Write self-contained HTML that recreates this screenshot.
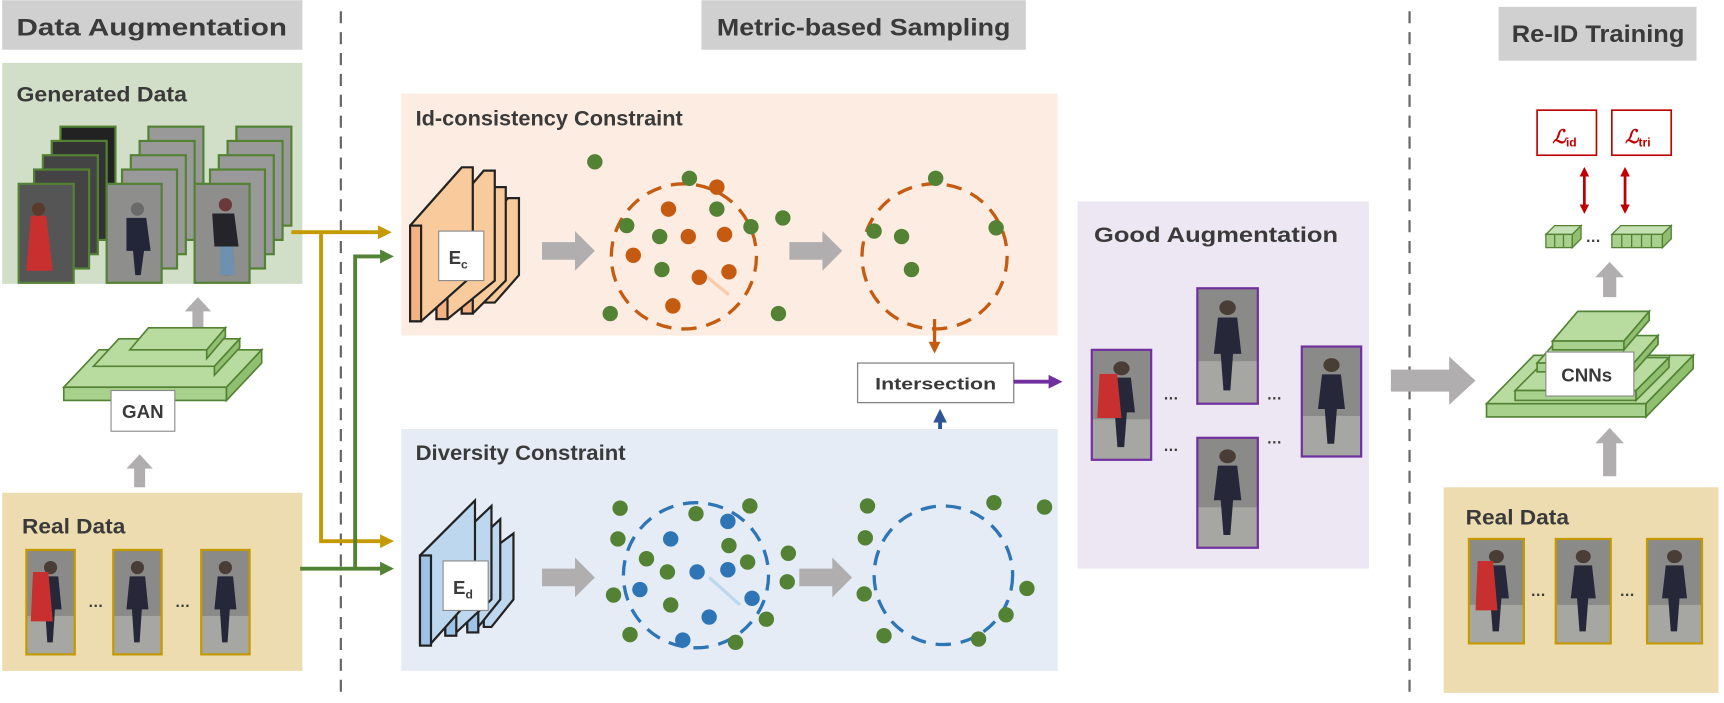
<!DOCTYPE html>
<html><head><meta charset="utf-8"><style>
html,body{margin:0;padding:0;background:#fff;}
svg{display:block;}
text{font-family:"Liberation Sans",sans-serif;font-weight:bold;fill:#3a3a3a;}
</style></head><body>
<svg width="1724" height="703" viewBox="0 0 1568 639" xmlns="http://www.w3.org/2000/svg">
<defs>
<marker id="ay" viewBox="0 0 6 6" markerWidth="3.6" markerHeight="3.6" refX="3" refY="3" orient="auto"><path d="M0,0 L6,3 L0,6 z" fill="#c49a00"/></marker>
<marker id="ag" viewBox="0 0 6 6" markerWidth="3.6" markerHeight="3.6" refX="3" refY="3" orient="auto"><path d="M0,0 L6,3 L0,6 z" fill="#548235"/></marker>
<marker id="ao" viewBox="0 0 6 6" markerWidth="3.6" markerHeight="3.6" refX="3" refY="3" orient="auto"><path d="M0,0 L6,3 L0,6 z" fill="#c55a11"/></marker>
<marker id="ab" viewBox="0 0 6 6" markerWidth="3.6" markerHeight="3.6" refX="3" refY="3" orient="auto"><path d="M0,0 L6,3 L0,6 z" fill="#2f5597"/></marker>
<marker id="ap" viewBox="0 0 6 6" markerWidth="3.6" markerHeight="3.6" refX="3" refY="3" orient="auto"><path d="M0,0 L6,3 L0,6 z" fill="#7030a0"/></marker>
<marker id="ar" viewBox="0 0 6 6" markerWidth="3.5" markerHeight="3.5" refX="3" refY="3" orient="auto-start-reverse"><path d="M0,0 L6,3 L0,6 z" fill="#c00000"/></marker>
<symbol id="person" viewBox="0 0 44 95" preserveAspectRatio="none">
<rect x="0" y="0" width="44" height="95" fill="#8a8a88"/>
<rect x="0" y="60" width="44" height="35" fill="#a6a6a2"/>
<circle cx="22" cy="16" r="6" fill="#4a3d36"/>
<path d="M15,24 h14 l3,30 h-6 l-2,30 h-5 l-2,-30 h-5 z" fill="#26283a"/>
</symbol>
</defs>

<rect x="2" y="0" width="273" height="45" fill="#d0d0d0"/>
<text x="15" y="32" font-size="22" textLength="246" lengthAdjust="spacingAndGlyphs">Data Augmentation</text>
<rect x="638" y="0" width="295" height="45" fill="#d0d0d0"/>
<text x="652" y="32" font-size="22" textLength="267" lengthAdjust="spacingAndGlyphs">Metric-based Sampling</text>
<rect x="1363" y="6" width="180" height="49" fill="#d0d0d0"/>
<text x="1375" y="38" font-size="22" textLength="157" lengthAdjust="spacingAndGlyphs">Re-ID Training</text>

<line x1="310" y1="10" x2="310" y2="635" stroke="#666" stroke-width="2" stroke-dasharray="11,8"/>
<line x1="1282" y1="10" x2="1282" y2="635" stroke="#666" stroke-width="2" stroke-dasharray="11,8"/>

<!-- Generated data -->
<rect x="2" y="57" width="273" height="201" fill="#d2dfc8"/>
<text x="15" y="92" font-size="19" textLength="155" lengthAdjust="spacingAndGlyphs">Generated Data</text>
<g stroke="#548235" stroke-width="2">
<rect x="55" y="115" width="50" height="90" fill="#222"/>
<rect x="47" y="128" width="50" height="90" fill="#333"/>
<rect x="39" y="141" width="50" height="90" fill="#444"/>
<rect x="31" y="154" width="50" height="90" fill="#444"/>
<rect x="135" y="115" width="50" height="90" fill="#999"/>
<rect x="127" y="128" width="50" height="90" fill="#999"/>
<rect x="119" y="141" width="50" height="90" fill="#999"/>
<rect x="111" y="154" width="50" height="90" fill="#999"/>
<rect x="215" y="115" width="50" height="90" fill="#999"/>
<rect x="207" y="128" width="50" height="90" fill="#999"/>
<rect x="199" y="141" width="50" height="90" fill="#999"/>
<rect x="191" y="154" width="50" height="90" fill="#999"/>
<rect x="17" y="167" width="50" height="90" fill="#555"/>
<rect x="97" y="167" width="50" height="90" fill="#8e8e8c"/>
<rect x="177" y="167" width="50" height="90" fill="#8e8e8c"/>
</g>
<path d="M28,196 h14 l6,50 h-24 z" fill="#c83030"/>
<circle cx="35" cy="190" r="6" fill="#5a3a2a"/>
<circle cx="125" cy="190" r="6" fill="#6a6a6a"/>
<path d="M115,198 h18 l4,30 h-6 l-3,22 h-5 l-2,-22 h-6 z" fill="#222638"/>
<circle cx="205" cy="186" r="6" fill="#6a3a3a"/>
<path d="M193,194 h20 l4,30 h-6 l-2,26 h-6 l-2,-26 h-6 z" fill="#24242a"/>
<path d="M200,224 h12 l2,26 h-14 z" fill="#7090b0"/>

<path d="M175,300 v-17 h-7 l12,-13 l12,13 h-7 v17 z" fill="#b0aeae"/>

<!-- GAN pyramid -->
<g stroke="#548235" stroke-width="1.5">
<path d="M58,352 L90,318 L238,318 L206,352 z" fill="#b8dca0"/>
<rect x="58" y="352" width="148" height="12" fill="#a9d18e"/>
<path d="M206,352 L238,318 L238,330 L206,364 z" fill="#8fbf6f"/>
<path d="M85,333 L108,308 L218,308 L195,333 z" fill="#b8dca0"/>
<path d="M195,333 L218,308 L218,316 L195,341 z" fill="#8fbf6f"/>
<path d="M118,318 L135,298 L205,298 L188,318 z" fill="#b8dca0"/>
<path d="M188,318 L205,298 L205,306 L188,326 z" fill="#8fbf6f"/>
</g>
<rect x="101" y="355" width="58" height="37" fill="#fff" stroke="#888"/>
<text x="111" y="380" font-size="17">GAN</text>

<path d="M122,443 v-17 h-7 l12,-13 l12,13 h-7 v17 z" fill="#b0aeae"/>

<!-- Real Data left -->
<rect x="2" y="448" width="273" height="162" fill="#ecdcaf"/>
<text x="20" y="485" font-size="19" textLength="94" lengthAdjust="spacingAndGlyphs">Real Data</text>
<use href="#person" x="24" y="500" width="44" height="95"/>
<use href="#person" x="103" y="500" width="44" height="95"/>
<use href="#person" x="183" y="500" width="44" height="95"/>
<g stroke="#c49a00" stroke-width="2" fill="none">
<rect x="24" y="500" width="44" height="95"/><rect x="103" y="500" width="44" height="95"/><rect x="183" y="500" width="44" height="95"/>
</g>
<path d="M30,520 h14 l4,45 h-20 z" fill="#c83030"/>
<text x="80" y="552" font-size="14" fill="#222">…</text>
<text x="159" y="552" font-size="14" fill="#222">…</text>

<!-- connectors -->
<g fill="none" stroke-width="3.5">
<path d="M265,211 H350" stroke="#c49a00" marker-end="url(#ay)"/>
<path d="M292,211 V492 H352" stroke="#c49a00" marker-end="url(#ay)"/>
<path d="M273,517 H352" stroke="#548235" marker-end="url(#ag)"/>
<path d="M323,517 V233 H352" stroke="#548235" marker-end="url(#ag)"/>
</g>

<!-- Id-consistency box -->
<rect x="365" y="85" width="597" height="220" fill="#fcece1"/>
<text x="378" y="114" font-size="19" textLength="243" lengthAdjust="spacingAndGlyphs">Id-consistency Constraint</text>
<g stroke="#222" stroke-width="2" fill="#f9cb9c">
<path d="M440,205 L462,180 L472,180 L472,250 L450,275 L440,275z"/>
<path d="M420,205 L450,170 L460,170 L460,255 L430,285 L420,285z"/><rect x="420" y="205" width="10" height="80" fill="#f4b183"/>
<path d="M397,205 L440,155 L450,155 L450,255 L407,290 L397,290z"/><rect x="397" y="205" width="10" height="85" fill="#f4b183"/>
<path d="M373,205 L420,152 L430,152 L430,250 L383,292 L373,292z"/><rect x="373" y="205" width="10" height="87" fill="#f4b183"/>
</g>
<rect x="399" y="210" width="41" height="45" fill="#fff" stroke="#888"/>
<text x="408" y="240" font-size="17">E<tspan font-size="11" dy="4">c</tspan></text>
<path d="M493,220 h30 v-10 l18,18 l-18,18 v-10 h-30 z" fill="#b0aeae"/>
<path d="M718,220 h30 v-10 l18,18 l-18,18 v-10 h-30 z" fill="#b0aeae"/>
<circle cx="622" cy="233" r="66" fill="none" stroke="#c55a11" stroke-width="3" stroke-dasharray="14,9"/>
<circle cx="850" cy="233" r="66" fill="none" stroke="#c55a11" stroke-width="3" stroke-dasharray="14,9"/>
<line x1="636" y1="246" x2="663" y2="268" stroke="#f8cbad" stroke-width="3"/>
<g fill="#548235">
<circle cx="541" cy="147" r="7"/><circle cx="627" cy="162" r="7"/><circle cx="570" cy="205" r="7"/><circle cx="652" cy="190" r="7"/>
<circle cx="600" cy="215" r="7"/><circle cx="683" cy="206" r="7"/><circle cx="712" cy="198" r="7"/><circle cx="602" cy="245" r="7"/>
<circle cx="555" cy="285" r="7"/><circle cx="708" cy="285" r="7"/>
<circle cx="851" cy="162" r="7"/><circle cx="795" cy="210" r="7"/><circle cx="820" cy="215" r="7"/><circle cx="906" cy="207" r="7"/><circle cx="829" cy="245" r="7"/>
</g>
<g fill="#c55a11">
<circle cx="652" cy="170" r="7"/><circle cx="608" cy="190" r="7"/><circle cx="626" cy="215" r="7"/><circle cx="659" cy="213" r="7"/>
<circle cx="576" cy="232" r="7"/><circle cx="636" cy="252" r="7"/><circle cx="663" cy="247" r="7"/><circle cx="612" cy="278" r="7"/>
</g>
<path d="M850,290 V316" stroke="#c55a11" stroke-width="3" fill="none" marker-end="url(#ao)"/>

<!-- Intersection -->
<rect x="780" y="330" width="142" height="36" fill="#fff" stroke="#888" stroke-width="1.2"/>
<text x="796" y="354" font-size="15" textLength="110" lengthAdjust="spacingAndGlyphs">Intersection</text>
<path d="M922,347 H960" stroke="#7030a0" stroke-width="3.5" fill="none" marker-end="url(#ap)"/>
<path d="M855,410 V378" stroke="#2f5597" stroke-width="3.5" fill="none" marker-end="url(#ab)"/>

<!-- Diversity box -->
<rect x="365" y="390" width="597" height="220" fill="#e5ecf6"/>
<text x="378" y="418" font-size="19" textLength="191" lengthAdjust="spacingAndGlyphs">Diversity Constraint</text>
<g stroke="#222" stroke-width="2" fill="#bdd7ee">
<path d="M440,505 L467,485 L467,545 L447,570 L440,570z"/>
<path d="M425,500 L455,472 L455,545 L435,570 L425,570z"/><rect x="425" y="500" width="10" height="75" fill="#9dc3e6"/>
<path d="M405,500 L447,460 L447,545 L415,575 L405,575z"/><rect x="405" y="500" width="10" height="78" fill="#9dc3e6"/>
<path d="M382,505 L432,455 L432,540 L392,585 L382,585z"/><rect x="382" y="505" width="10" height="82" fill="#9dc3e6"/>
</g>
<rect x="403" y="510" width="41" height="45" fill="#fff" stroke="#888"/>
<text x="412" y="540" font-size="17">E<tspan font-size="11" dy="4">d</tspan></text>
<path d="M493,517 h30 v-10 l18,18 l-18,18 v-10 h-30 z" fill="#b0aeae"/>
<path d="M727,517 h30 v-10 l18,18 l-18,18 v-10 h-30 z" fill="#b0aeae"/>
<circle cx="633" cy="523" r="66" fill="none" stroke="#2e75b6" stroke-width="3" stroke-dasharray="14,9"/>
<circle cx="858" cy="523" r="63" fill="none" stroke="#2e75b6" stroke-width="3" stroke-dasharray="14,9"/>
<line x1="645" y1="525" x2="673" y2="550" stroke="#bdd7ee" stroke-width="3"/>
<g fill="#548235">
<circle cx="564" cy="462" r="7"/><circle cx="633" cy="467" r="7"/><circle cx="682" cy="460" r="7"/><circle cx="562" cy="490" r="7"/>
<circle cx="663" cy="496" r="7"/><circle cx="588" cy="508" r="7"/><circle cx="607" cy="520" r="7"/><circle cx="680" cy="511" r="7"/>
<circle cx="717" cy="503" r="7"/><circle cx="558" cy="541" r="7"/><circle cx="610" cy="550" r="7"/><circle cx="716" cy="529" r="7"/>
<circle cx="697" cy="563" r="7"/><circle cx="573" cy="577" r="7"/><circle cx="669" cy="584" r="7"/>
<circle cx="789" cy="460" r="7"/><circle cx="904" cy="457" r="7"/><circle cx="950" cy="461" r="7"/><circle cx="787" cy="489" r="7"/>
<circle cx="786" cy="540" r="7"/><circle cx="934" cy="535" r="7"/><circle cx="915" cy="559" r="7"/><circle cx="804" cy="578" r="7"/><circle cx="890" cy="581" r="7"/>
</g>
<g fill="#2e75b6">
<circle cx="662" cy="474" r="7"/><circle cx="610" cy="490" r="7"/><circle cx="634" cy="520" r="7"/><circle cx="662" cy="518" r="7"/>
<circle cx="582" cy="536" r="7"/><circle cx="684" cy="544" r="7"/><circle cx="645" cy="561" r="7"/><circle cx="621" cy="582" r="7"/>
</g>

<!-- Good Augmentation -->
<rect x="980" y="183" width="265" height="334" fill="#ede7f3"/>
<text x="995" y="220" font-size="19" textLength="222" lengthAdjust="spacingAndGlyphs">Good Augmentation</text>
<use href="#person" x="993" y="318" width="54" height="100"/>
<use href="#person" x="1089" y="262" width="55" height="105"/>
<use href="#person" x="1089" y="398" width="55" height="100"/>
<use href="#person" x="1184" y="315" width="54" height="100"/>
<g stroke="#7030a0" stroke-width="2" fill="none">
<rect x="993" y="318" width="54" height="100"/><rect x="1089" y="262" width="55" height="105"/>
<rect x="1089" y="398" width="55" height="100"/><rect x="1184" y="315" width="54" height="100"/>
</g>
<path d="M1000,340 h16 l4,40 h-22 z" fill="#c83030"/>
<g font-size="14" fill="#222">
<text x="1058" y="363">…</text><text x="1152" y="363">…</text>
<text x="1058" y="410">…</text><text x="1152" y="403">…</text>
</g>

<path d="M1265,336 h53 v-12 l24,22 l-24,22 v-12 h-53 z" fill="#b0aeae"/>

<!-- CNNs pyramid -->
<g stroke="#548235" stroke-width="1.5">
<path d="M1352,367 L1395,323 L1540,323 L1497,367 z" fill="#b8dca0"/>
<rect x="1352" y="367" width="145" height="12" fill="#a9d18e"/>
<path d="M1497,367 L1540,323 L1540,335 L1497,379 z" fill="#8fbf6f"/>
<path d="M1378,355 L1408,325 L1518,325 L1488,355 z" fill="#b8dca0"/>
<rect x="1378" y="355" width="110" height="9" fill="#a9d18e"/>
<path d="M1488,355 L1518,325 L1518,334 L1488,364 z" fill="#8fbf6f"/>
<path d="M1398,330 L1420,305 L1508,305 L1486,330 z" fill="#b8dca0"/>
<rect x="1398" y="330" width="88" height="8" fill="#a9d18e"/>
<path d="M1486,330 L1508,305 L1508,313 L1486,338 z" fill="#8fbf6f"/>
<path d="M1412,310 L1435,283 L1500,283 L1477,310 z" fill="#b8dca0"/>
<rect x="1412" y="310" width="65" height="8" fill="#a9d18e"/>
<path d="M1477,310 L1500,283 L1500,291 L1477,318 z" fill="#8fbf6f"/>
</g>
<rect x="1406" y="320" width="80" height="40" fill="#fff" stroke="#888"/>
<text x="1420" y="347" font-size="17">CNNs</text>
<path d="M1458,433 v-30 h-7 l13,-14 l13,14 h-7 v30 z" fill="#b0aeae"/>
<path d="M1458,270 v-18 h-7 l13,-14 l13,14 h-7 v18 z" fill="#b0aeae"/>

<g stroke="#548235" stroke-width="1.2">
<path d="M1406,213 L1414,205 L1438,205 L1430,213z" fill="#c5e0b4"/>
<rect x="1406" y="213" width="24" height="12" fill="#a9d18e"/><line x1="1414" y1="213" x2="1414" y2="225"/><line x1="1422" y1="213" x2="1422" y2="225"/>
<path d="M1430,213 L1438,205 L1438,217 L1430,225z" fill="#8fbf6f"/>
<path d="M1466,213 L1474,205 L1520,205 L1512,213z" fill="#c5e0b4"/>
<rect x="1466" y="213" width="46" height="12" fill="#a9d18e"/>
<line x1="1475" y1="213" x2="1475" y2="225"/><line x1="1484" y1="213" x2="1484" y2="225"/><line x1="1493" y1="213" x2="1493" y2="225"/><line x1="1502" y1="213" x2="1502" y2="225"/>
<path d="M1512,213 L1520,205 L1520,217 L1512,225z" fill="#8fbf6f"/>
</g>
<text x="1442" y="220" font-size="14" fill="#555">…</text>
<path d="M1441,156 V190" stroke="#c00000" stroke-width="2.5" fill="none" marker-start="url(#ar)" marker-end="url(#ar)"/>
<path d="M1478,156 V190" stroke="#c00000" stroke-width="2.5" fill="none" marker-start="url(#ar)" marker-end="url(#ar)"/>
<rect x="1398" y="100" width="54" height="41" fill="#fff" stroke="#c00000" stroke-width="1.5"/>
<rect x="1466" y="100" width="54" height="41" fill="#fff" stroke="#c00000" stroke-width="1.5"/>
<text x="1412" y="130" font-size="17" font-style="italic" style="fill:#c00000">ℒ<tspan font-size="11" font-style="normal" dy="3">id</tspan></text>
<text x="1478" y="130" font-size="17" font-style="italic" style="fill:#c00000">ℒ<tspan font-size="11" font-style="normal" dy="3">tri</tspan></text>

<!-- Real Data right -->
<rect x="1313" y="443" width="250" height="187" fill="#ecdcaf"/>
<text x="1333" y="477" font-size="19" textLength="94" lengthAdjust="spacingAndGlyphs">Real Data</text>
<use href="#person" x="1336" y="490" width="50" height="95"/>
<use href="#person" x="1415" y="490" width="50" height="95"/>
<use href="#person" x="1498" y="490" width="50" height="95"/>
<g stroke="#c49a00" stroke-width="2" fill="none">
<rect x="1336" y="490" width="50" height="95"/><rect x="1415" y="490" width="50" height="95"/><rect x="1498" y="490" width="50" height="95"/>
</g>
<path d="M1344,510 h14 l4,45 h-20 z" fill="#c83030"/>
<text x="1392" y="542" font-size="14" fill="#222">…</text>
<text x="1473" y="542" font-size="14" fill="#222">…</text>
</svg>
</body></html>
